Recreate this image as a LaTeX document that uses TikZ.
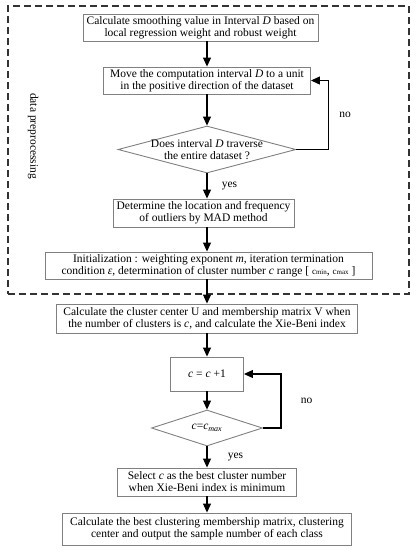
\documentclass[tikz,border=0pt]{standalone}
\usepackage{fontspec}
\setmainfont{Liberation Serif}
\usetikzlibrary{arrows.meta}
\usetikzlibrary{shapes.geometric}
\definecolor{boxGray}{HTML}{808080}
\definecolor{frameGray}{HTML}{333333}

\begin{document}
\begin{tikzpicture}[x=1pt,y=-1pt,font=\fontsize{11.5}{12}\selectfont]
\tikzset{ProcessBox/.style={
  draw=boxGray,
  line width=0.9pt,
  rectangle,
  align=center,
  inner sep=0pt,
}}
\tikzset{DecisionBox/.style={
  draw=boxGray,
  line width=0.9pt,
  diamond,
  inner sep=0pt,
}}
\tikzset{PreprocessFrame/.style={
  draw=frameGray,
  line width=1.4pt,
  dash pattern=on 7pt off 4pt,
  rectangle,
  inner sep=0pt,
}}
\tikzset{FlowArrow/.style={
  draw=black,
  line width=1.1pt,
  -{Triangle[length=9pt,width=8pt]},
}}

\useasboundingbox (0,0) rectangle (418,550);

\node[PreprocessFrame, minimum width=401, minimum height=288] (frame) at (208.5,150) {};
\node[rotate=-90] (prep) at (33,136) {data preprocessing};
\coordinate (spine) at (207,0);

\node[ProcessBox, minimum width=235, minimum height=27] (smooth) at (200.5,27.5)
  {Calculate smoothing value in Interval \textit{D} based on\\local regression weight and robust weight};
\node[ProcessBox, minimum width=207, minimum height=27] (move) at (207,80.5)
  {Move the computation interval \textit{D} to a unit\\in the positive direction of the dataset};
\node[DecisionBox, minimum width=178, minimum height=47,
  label={[align=center]center:Does interval \textit{D} traverse\\the entire dataset ?}] (traverse) at (207,149.5) {};
\node[ProcessBox, minimum width=181, minimum height=28] (outlier) at (203.5,213)
  {Determine the location and frequency\\of outliers by MAD method};
\node[ProcessBox, minimum width=327, minimum height=27] (init) at (208.5,265.5)
  {Initialization : weighting exponent \textit{m}, iteration termination\\condition \textit{ε}, determination of cluster number \textit{c} range [ {\small c}{\scriptsize min}, {\small c}{\scriptsize max} ]};
\node[ProcessBox, minimum width=301, minimum height=29] (xiebeni) at (207,318.5)
  {Calculate the cluster center U and membership matrix V when\\the number of clusters is \textit{c}, and calculate the Xie-Beni index};
\node[ProcessBox, minimum width=73, minimum height=34] (incr) at (207,374)
  {\textit{c} = \textit{c} +1};
\node[DecisionBox, minimum width=111, minimum height=36,
  label={center:\textit{c}=\textit{c}\textsubscript{\textit{max}}}] (cmax) at (207,428) {};
\node[ProcessBox, minimum width=179, minimum height=28] (best) at (207,482)
  {Select \textit{c} as the best cluster number\\when Xie-Beni index is minimum};
\node[ProcessBox, minimum width=289, minimum height=32] (output) at (207,529)
  {Calculate the best clustering membership matrix, clustering\\center and output the sample number of each class};

% main flow
\draw[FlowArrow] (smooth.south -| spine) -- (move.north);
\draw[FlowArrow] (move.south) -- (traverse.north);
\draw[FlowArrow] (traverse.south) -- node[right=11pt] {yes} (outlier.north -| spine);
\draw[FlowArrow] (outlier.south -| spine) -- (init.north -| spine);
\draw[FlowArrow] (init.south -| spine) -- (xiebeni.north);
\draw[FlowArrow] (xiebeni.south) -- (incr.north);
\draw[FlowArrow] (incr.south) -- (cmax.north);
\draw[FlowArrow] (cmax.south) -- node[right=17pt] {yes} (best.north);
\draw[FlowArrow] (best.south) -- (output.north);

% loops
\draw[FlowArrow] (traverse.east) -- ++(32,0) |- node[pos=0.25, right=7pt] {no} (move.east);
\draw[FlowArrow] (cmax.east) -- ++(18,0) |- node[pos=0.25, right=16pt] {no} (incr.east);
\end{tikzpicture}
\end{document}
